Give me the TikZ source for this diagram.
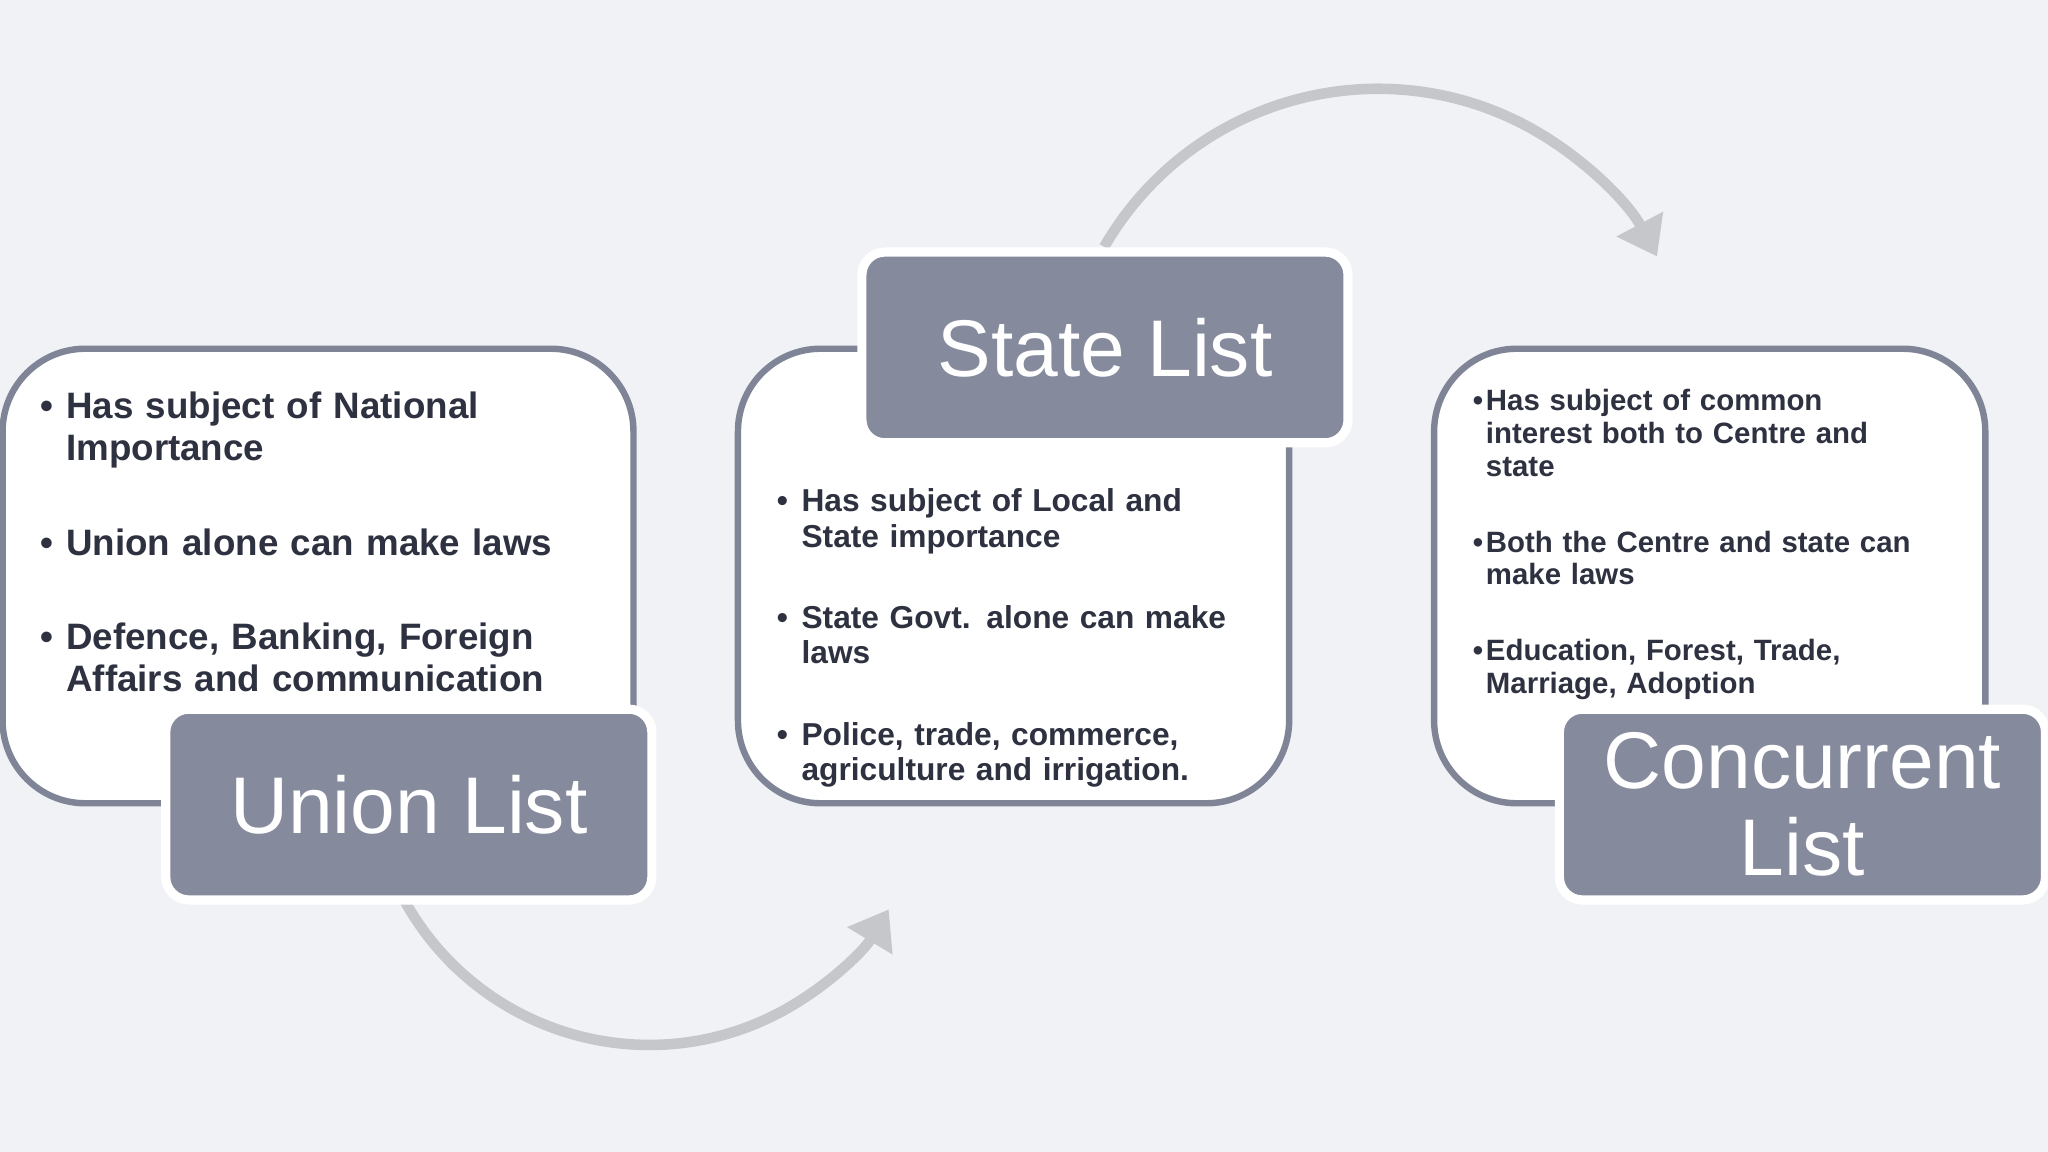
\documentclass[tikz,border=0pt]{standalone}
\usepackage{fontspec}
\setmainfont{Liberation Sans}
\definecolor{pagebg}{HTML}{F0F2F5}
\definecolor{listedge}{HTML}{7F8596}
\definecolor{titlefill}{HTML}{858B9D}
\definecolor{bodytext}{HTML}{2E3140}
\definecolor{arcgray}{HTML}{C6C7CB}
\newcommand{\bitem}[2][0.2cm]{\par\hangindent=#1\hangafter=1\noindent\makebox[#1][l]{\textbullet}#2\par}
\newcommand{\nohyph}{\raggedright\hyphenpenalty10000\relax}
\tikzset{
  listbox/.style={draw=listedge, line width=1.4pt, fill=white, rounded corners=18},
  titlebox/.style={draw=white, line width=2pt, fill=titlefill, rounded corners=5,
    text=white, font=\fontsize{17.5}{19}\selectfont, align=center},
  bodytxt/.style={anchor=north west, text=bodytext, inner sep=0pt,
    execute at begin node=\nohyph},
  flowarc/.style={arcgray, line width=2.3pt, -{Triangle[length=8pt,width=11pt]}}
}
\usetikzlibrary{arrows.meta}
\begin{document}
\begin{tikzpicture}[x=0.01cm, y=-0.01cm]
    % page
    \fill[pagebg] (0,0) rectangle (1568,882);
    \useasboundingbox (0,0) rectangle (1568,882);

    % connecting arcs
    \draw[flowarc] (497,586) ++(151:214) arc (151:31:214);
    \draw[flowarc] (1055,310) ++(-150:242) arc (-150:-28:242);

    % Union list
    \draw[listbox] (2,267) rectangle (485,615);
    \node[bodytxt, text width=4.3cm, font=\bfseries\fontsize{8}{9.1}\selectfont] (unionbody) at (30,288) {%
      \bitem{Has subject of National Importance}\vspace{11.5pt}
      \bitem{Union alone can make laws}\vspace{11.5pt}
      \bitem{Defence, Banking, Foreign Affairs and communication}};
    \node[titlebox, minimum width=3.72cm, minimum height=1.46cm] (uniontitle) at (313,616) {Union List};

    % State list
    \draw[listbox] (565,267) rectangle (987,615);
    \node[bodytxt, text width=3.75cm, font=\bfseries\fontsize{6.9}{7.7}\selectfont] (statebody) at (594,364) {%
      \bitem[0.19cm]{Has subject of Local and State importance}\vspace{10pt}
      \bitem[0.19cm]{State Govt. alone can make laws}\vspace{10pt}
      \bitem[0.19cm]{Police, trade, commerce, agriculture and irrigation.}};
    \node[titlebox, minimum width=3.72cm, minimum height=1.46cm] (statetitle) at (846,266) {State List};

    % Concurrent list
    \draw[listbox] (1098,267) rectangle (1520,615);
    \node[bodytxt, text width=3.5cm, font=\bfseries\fontsize{6.4}{7.1}\selectfont] (concbody) at (1127,289) {%
      \bitem[0.1cm]{Has subject of common interest both to Centre and state}\vspace{9.4pt}
      \bitem[0.1cm]{Both the Centre and state can make laws}\vspace{9.4pt}
      \bitem[0.1cm]{Education, Forest, Trade, Marriage, Adoption}};
    \node[titlebox, minimum width=3.72cm, minimum height=1.46cm] (conctitle) at (1380,616) {Concurrent\\List};
\end{tikzpicture}
\end{document}
